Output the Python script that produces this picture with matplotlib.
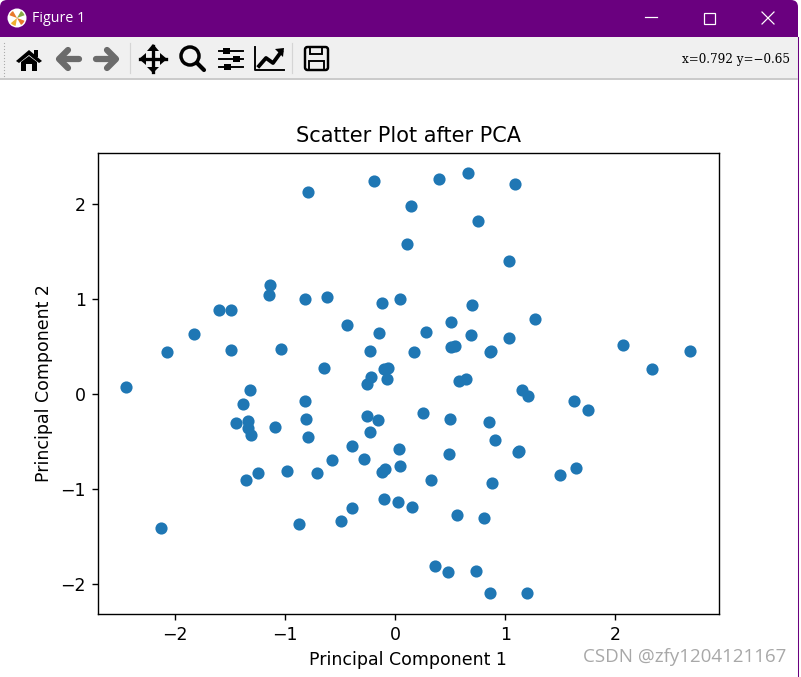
import matplotlib
matplotlib.use("Agg")
import matplotlib.pyplot as plt
from matplotlib.patches import Circle, Polygon, Rectangle, FancyBboxPatch, Wedge

pc1 = [-0.197, -0.797, -1.14, -1.15, -0.824, -0.624, -0.124, 0.045, -1.6, -1.49,
       -0.436, -0.145, -1.827, -2.073, -1.49, -1.036, -0.227, -0.645, -0.105, -0.064,
       -0.218, -0.26, -0.073, -2.445,
       0.40, 0.664, 1.09, 0.14, 0.755, 0.11, 1.036, 0.70, 0.509, 0.282,
       0.69, 1.273, 1.036, 0.506, 0.543, 0.173, 0.86, 0.87, 2.073, 2.682,
       2.336, 0.579, 0.64,
       1.149, 1.209, 1.627, 1.749, 0.255, 0.50, 0.855, 0.909, 1.125, 1.118,
       0.491, 0.036, 0.045, 1.645, 1.495, 0.327, 0.882, 0.027, 0.155, 0.564,
       0.809, 0.364, 0.482, 0.736, 0.864, 1.20,
       -1.318, -1.382, -0.818, -0.809, -0.791, -1.451, -1.339, -1.336, -1.309, -1.091,
       -0.255, -0.155, -0.227, -0.391, -0.575, -0.282, -0.09, -0.118, -1.248, -1.355,
       -0.982, -0.709, -0.10, -0.391, -0.491, -0.873, -2.127]
pc2 = [2.25, 2.13, 1.147, 1.04, 1.007, 1.028, 0.965, 1.007, 0.89, 0.883,
       0.725, 0.64, 0.63, 0.44, 0.462, 0.472, 0.451, 0.272, 0.262, 0.272,
       0.178, 0.11, 0.16, 0.072,
       2.262, 2.325, 2.21, 1.978, 1.82, 1.586, 1.399, 0.936, 0.757, 0.652,
       0.62, 0.788, 0.588, 0.494, 0.504, 0.441, 0.44, 0.45, 0.515, 0.452,
       0.262, 0.142, 0.157,
       0.041, -0.022, -0.075, -0.17, -0.20, -0.264, -0.296, -0.485, -0.595, -0.612,
       -0.633, -0.58, -0.759, -0.78, -0.854, -0.906, -0.938, -1.138, -1.19, -1.275,
       -1.306, -1.812, -1.875, -1.864, -2.096, -2.096,
       0.041, -0.106, -0.075, -0.264, -0.454, -0.306, -0.285, -0.359, -0.433, -0.348,
       -0.233, -0.275, -0.401, -0.548, -0.696, -0.685, -0.787, -0.822, -0.833, -0.906,
       -0.812, -0.833, -1.106, -1.201, -1.338, -1.37, -1.412]

W, H = 801, 677
DPI = 125
PURPLE = "#6a007f"
GREY = "#6b6b6b"

fig = plt.figure(figsize=(W / DPI, H / DPI), dpi=DPI)
ax = fig.add_axes([98 / W, 1 - 614 / H, (718.7 - 98) / W, (614 - 152.5) / H])
ax.scatter(pc1, pc2)
ax.set_xlabel("Principal Component 1")
ax.set_ylabel("Principal Component 2")
ax.set_title("Scatter Plot after PCA")

# window frame, in pixels of the screenshot
ui = fig.add_axes([0, 0, 1, 1], zorder=5)
ui.set_xlim(0, W)
ui.set_ylim(H, 0)
ui.axis("off")
ui.patch.set_alpha(0)

ui.add_patch(FancyBboxPatch((0, 0), 798, 60, boxstyle="round,pad=0,rounding_size=7", fc=PURPLE, ec="none"))
ui.add_patch(Rectangle((0, 37), 798, 41, fc="#f0f0f0", ec="none"))
ui.plot([0, 797], [78.5, 78.5], color="#bdbdbd", lw=0.9)
ui.plot([797.5, 797.5], [37, 677], color=PURPLE, lw=0.6)

# app icon
ui.add_patch(Circle((17, 18), 9.5, fc="white", ec="none"))
ui.add_patch(Wedge((17, 18), 8, 20, 60, fc="#e8792b", ec="none"))
ui.add_patch(Wedge((17, 18), 8, 200, 240, fc="#e8792b", ec="none"))
ui.add_patch(Wedge((17, 18), 8, 100, 140, fc="#f0b030", ec="none"))
ui.add_patch(Wedge((17, 18), 8, 300, 340, fc="#88aa44", ec="none"))
ui.text(32, 19, "Figure 1", color="white", fontsize=8.2, family="Open Sans", va="center")

# window buttons
ui.plot([645, 657], [17, 17], color="white", lw=0.7)
ui.add_patch(Rectangle((703.5, 12.5), 11, 11, fc="none", ec="white", lw=0.7))
ui.plot([762, 774], [12, 24], color="white", lw=0.7)
ui.plot([762, 774], [24, 12], color="white", lw=0.7)

# toolbar grip and separators
ui.scatter([4] * 12, list(range(43, 79, 3))[:12], s=0.5, color="#aaaaaa", linewidths=0)
ui.plot([129.5, 129.5], [43, 73], color="#d5d5d5", lw=0.7)
ui.plot([291.5, 291.5], [43, 73], color="#d5d5d5", lw=0.7)

# home
ui.add_patch(Polygon([(16, 61), (29, 50), (42, 61), (39, 63), (29, 55), (19, 63)], fc="black"))
ui.add_patch(Polygon([(21, 62), (29, 56), (37, 62), (37, 71), (32, 71), (32, 64), (26, 64), (26, 71), (21, 71)], fc="black"))
ui.add_patch(Rectangle((34, 50), 4, 7, fc="black"))

# back / forward
for tip, tail, head in [(59, 79, 68), (116, 96, 107)]:
    ui.plot([tip + (3 if tip < tail else -3), tail], [59, 59], color=GREY, lw=3.6, solid_capstyle="round")
    ui.plot([head, tip, head], [50, 59, 68], color=GREY, lw=3.6, solid_capstyle="round", solid_joinstyle="round")

# move
ui.plot([140, 166], [59, 59], color="black", lw=1.9)
ui.plot([153, 153], [46, 72], color="black", lw=1.9)
for pts in [[(153, 44), (147, 51), (159, 51)], [(153, 73), (147, 67), (159, 67)],
            [(139, 59), (146, 53), (146, 65)], [(167, 59), (160, 53), (160, 65)]]:
    ui.add_patch(Polygon(pts, fc="black"))

# zoom
ui.add_patch(Circle((190, 56), 9, fc="none", ec="black", lw=2.0))
ui.plot([197, 204], [63, 70], color="black", lw=2.4, solid_capstyle="round")

# sliders
for y, knob in [(51, 226), (59, 236), (67, 227)]:
    ui.plot([219, 243], [y, y], color="black", lw=1.1)
    ui.add_patch(Rectangle((knob - 3.5, y - 3), 7, 6, fc="black"))

# chart
ui.plot([255, 255, 284], [47, 70, 70], color="black", lw=1.1)
ui.plot([259, 266, 273, 281], [66, 58, 63, 52], color="black", lw=2.2)
ui.add_patch(Polygon([(284, 48), (275, 49), (283, 57)], fc="black"))

# save
ui.add_patch(FancyBboxPatch((305, 47), 23, 23, boxstyle="round,pad=0,rounding_size=2.5", fc="none", ec="black", lw=1.4))
ui.add_patch(Rectangle((310, 47), 12, 7, fc="none", ec="black", lw=1.1))
ui.add_patch(Rectangle((309, 61), 15, 9, fc="none", ec="black", lw=1.1))

ui.text(682, 59, "x=0.792 y=\u22120.65", color="black", fontsize=6.9, family="DejaVu Serif", va="center")
ui.text(583, 657, "CSDN @zfy1204121167", color="#a8a8a8", fontsize=10.8, family="Open Sans", va="center")

fig.savefig("out.png", dpi=DPI)
